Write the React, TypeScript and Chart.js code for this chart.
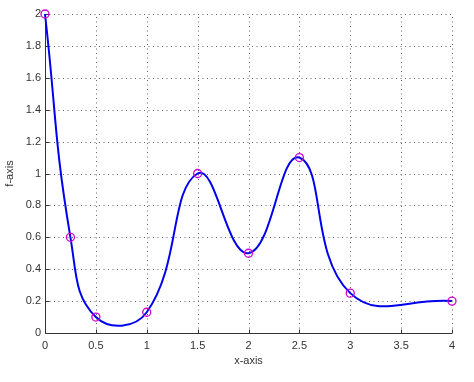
import { useEffect, useRef } from "react";
import { Chart, registerables } from "chart.js";

Chart.register(...registerables);

const xValues = [0, 0.25, 0.5, 1, 1.5, 2, 2.5, 3, 4];
const fValues = [2, 0.6, 0.1, 0.13, 1, 0.5, 1.1, 0.25, 0.2];
const xTicks = [0, 0.5, 1, 1.5, 2, 2.5, 3, 3.5, 4];
const yTicks = [0, 0.2, 0.4, 0.6, 0.8, 1, 1.2, 1.4, 1.6, 1.8, 2];
const xTitle = "x-axis";
const yTitle = "f-axis";

const fmt = (v: number) => String(Number(v.toFixed(2)));

const gridPlugin = {
  id: "matlabGrid",
  beforeDatasetsDraw(chart: any) {
    const { ctx, chartArea } = chart;
    const xs = chart.scales.x;
    const ys = chart.scales.y;
    const { left, right, top, bottom } = chartArea;
    ctx.save();
    ctx.strokeStyle = "#666";
    ctx.lineWidth = 1;
    ctx.setLineDash([1, 3.5]);
    xTicks.forEach((t) => {
      if (t === 0) return;
      const px = Math.round(xs.getPixelForValue(t)) + 0.5;
      ctx.beginPath();
      ctx.moveTo(px, bottom);
      ctx.lineTo(px, top);
      ctx.stroke();
    });
    yTicks.forEach((t) => {
      if (t === 0) return;
      const py = Math.round(ys.getPixelForValue(t)) + 0.5;
      ctx.beginPath();
      ctx.moveTo(left, py);
      ctx.lineTo(right, py);
      ctx.stroke();
    });
    ctx.setLineDash([]);
    ctx.strokeStyle = "#333";
    const bx = Math.round(left) + 0.5;
    const by = Math.round(bottom) + 0.5;
    ctx.beginPath();
    ctx.moveTo(bx, top);
    ctx.lineTo(bx, by);
    ctx.lineTo(right, by);
    ctx.stroke();
    xTicks.forEach((t) => {
      const px = Math.round(xs.getPixelForValue(t)) + 0.5;
      ctx.beginPath();
      ctx.moveTo(px, by);
      ctx.lineTo(px, by - 4);
      ctx.stroke();
    });
    yTicks.forEach((t) => {
      const py = Math.round(ys.getPixelForValue(t)) + 0.5;
      ctx.beginPath();
      ctx.moveTo(bx, py);
      ctx.lineTo(bx + 4, py);
      ctx.stroke();
    });
    ctx.restore();
  },
};

export default function App() {
  const ref = useRef<HTMLCanvasElement | null>(null);
  useEffect(() => {
    if (!ref.current) return;
    const font = { family: "'Liberation Sans', Arial, sans-serif", size: 11 };
    const chart = new Chart(ref.current, {
      type: "line",
      data: {
        datasets: [
          {
            data: xValues.map((x, i) => ({ x, y: fValues[i] })),
            borderColor: "#0000ee",
            borderWidth: 2,
            tension: 0.45,
            pointRadius: 4,
            pointBorderColor: "#d000d0",
            pointBackgroundColor: "rgba(0,0,0,0)",
            pointBorderWidth: 1.3,
            fill: false,
            clip: false,
          } as any,
        ],
      },
      options: {
        animation: false,
        responsive: false,
        elements: { line: { capBezierPoints: false } },
        layout: { padding: { top: 14, right: 22, left: 0, bottom: 0 } },
        plugins: { legend: { display: false }, tooltip: { enabled: false } },
        scales: {
          x: {
            type: "linear",
            min: 0,
            max: 4,
            afterBuildTicks: (s: any) => {
              s.ticks = xTicks.map((v) => ({ value: v }));
            },
            afterFit: (s: any) => {
              s.height = 49;
            },
            grid: { display: false, drawTicks: false },
            border: { display: false },
            ticks: {
              color: "#333",
              font,
              padding: 6,
              maxRotation: 0,
              callback: (v: any) => fmt(Number(v)),
            },
            title: {
              display: true,
              text: xTitle,
              color: "#333",
              font,
              padding: { top: 2, bottom: 14 },
            },
          },
          y: {
            type: "linear",
            min: 0,
            max: 2,
            afterBuildTicks: (s: any) => {
              s.ticks = yTicks.map((v) => ({ value: v }));
            },
            afterFit: (s: any) => {
              s.width = 45;
            },
            grid: { display: false, drawTicks: false },
            border: { display: false },
            ticks: {
              color: "#333",
              font,
              padding: 4,
              callback: (v: any) => fmt(Number(v)),
            },
            title: {
              display: true,
              text: yTitle,
              color: "#333",
              font,
              padding: { top: 3, bottom: 0 },
            },
          },
        },
      },
      plugins: [gridPlugin],
    });
    return () => chart.destroy();
  }, []);
  return (
    <div style={{ position: "absolute", left: 0, top: 0, width: 474, height: 382, background: "#fff" }}>
      <canvas ref={ref} width={474} height={382} style={{ display: "block" }} />
    </div>
  );
}
